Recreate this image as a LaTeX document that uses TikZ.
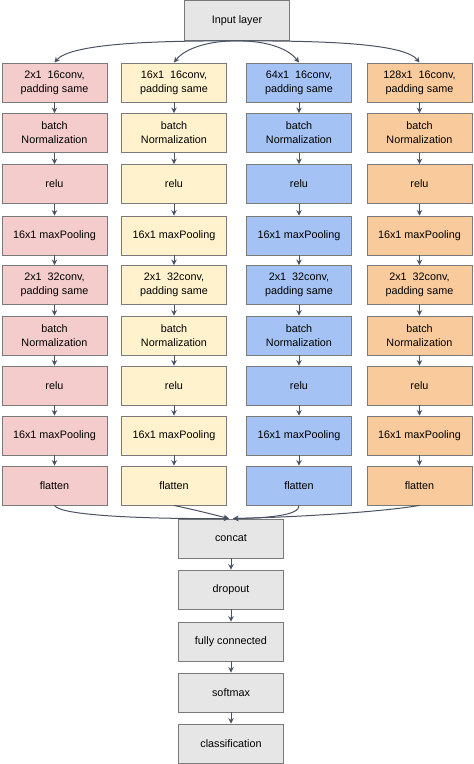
\documentclass[tikz,border=0pt]{standalone}
\usepackage{fontspec}
\setmainfont{Liberation Sans}
\usetikzlibrary{arrows.meta}
\definecolor{cpink}{HTML}{F4CCCC}
\definecolor{cyellow}{HTML}{FFF2CC}
\definecolor{cblue}{HTML}{A4C2F4}
\definecolor{corange}{HTML}{F9CB9C}
\definecolor{cgray}{HTML}{E6E6E6}
\definecolor{cborder}{HTML}{7A7A7A}
\definecolor{carrow}{HTML}{4A5363}
\begin{document}
\begin{tikzpicture}[x=1pt,y=-1pt,
  layerbox/.style={draw=cborder,line width=0.9pt,rectangle,minimum width=105pt,minimum height=39pt,inner sep=0pt,align=center,
    font=\fontsize{10.8}{14}\selectfont,text=black},
  arr/.style={draw=carrow,line width=1pt,-{Stealth[length=5.5pt,width=5.5pt]}}]
\useasboundingbox (0,0) rectangle (474,764);
\node[layerbox,fill=cgray,minimum height=40pt] (in) at (237,20.5) {Input layer};
\foreach \c/\x/\col/\first in {1/54.5/cpink/2x1,2/174/cyellow/16x1,3/299/cblue/64x1,4/419.5/corange/128x1}{
  \node[layerbox,fill=\col] (c\c1) at (\x,82.5) {\first\ \ 16conv,\\padding same};
  \node[layerbox,fill=\col] (c\c2) at (\x,133) {batch\\Normalization};
  \node[layerbox,fill=\col] (c\c3) at (\x,184) {relu};
  \node[layerbox,fill=\col] (c\c4) at (\x,235.5) {16x1 maxPooling};
  \node[layerbox,fill=\col] (c\c5) at (\x,285) {2x1\ \ 32conv,\\padding same};
  \node[layerbox,fill=\col] (c\c6) at (\x,335.5) {batch\\Normalization};
  \node[layerbox,fill=\col] (c\c7) at (\x,385.5) {relu};
  \node[layerbox,fill=\col] (c\c8) at (\x,435.5) {16x1 maxPooling};
  \node[layerbox,fill=\col] (c\c9) at (\x,485.5) {flatten};
  \foreach \r [evaluate=\r as \s using int(\r+1)] in {1,...,8}{
    \draw[arr] (c\c\r) -- (c\c\s);
  }
}
\node[layerbox,fill=cgray] (con) at (231,538.5) {concat};
\node[layerbox,fill=cgray] (drop) at (231,589.5) {dropout};
\node[layerbox,fill=cgray] (fc) at (231,641.5) {fully connected};
\node[layerbox,fill=cgray] (soft) at (231,692.5) {softmax};
\node[layerbox,fill=cgray] (cls) at (231,743.5) {classification};
\draw[arr] (con) -- (drop);
\draw[arr] (drop) -- (fc);
\draw[arr] (fc) -- (soft);
\draw[arr] (soft) -- (cls);
% top fan-out
\draw[arr] (in.south) .. controls (150,40.5) and (70,44) .. (c11.north);
\draw[arr] (in.south) .. controls (210,40.5) and (185,48) .. (c21.north);
\draw[arr] (in.south) .. controls (265,40.5) and (288,48) .. (c31.north);
\draw[arr] (in.south) .. controls (330,40.5) and (405,44) .. (c41.north);
% bottom fan-in
\draw[arr] (c19.south) .. controls (60,516) and (150,519) .. ([xshift=-2pt]con.north);
\draw[arr] (c29.south) .. controls (200,511) and (215,515) .. ([xshift=-2pt]con.north);
\draw[arr] (c39.south) .. controls (300,515) and (270,518) .. ([xshift=2pt]con.north);
\draw[arr] (c49.south) .. controls (380,512) and (300,517) .. ([xshift=2pt]con.north);
\end{tikzpicture}
\end{document}
